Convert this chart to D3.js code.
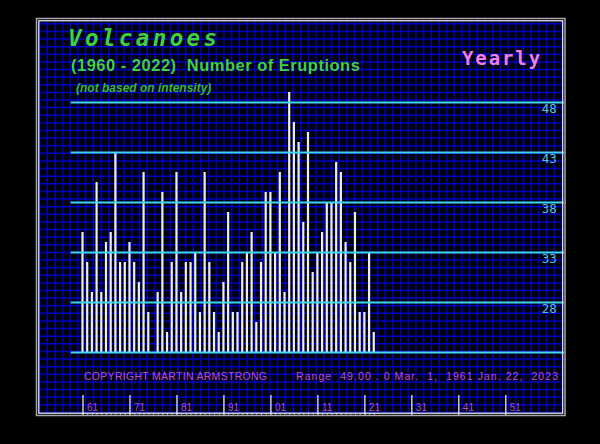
<!DOCTYPE html>
<html>
<head>
<meta charset="utf-8">
<script src="https://cdn.jsdelivr.net/npm/d3@7"></script>
<style>
  body { margin: 0; background: #000; }
  svg { display: block; }
</style>
</head>
<body>
<div id="chart"></div>
<script>
// yearly number of volcanic eruptions
var years = d3.range(1961, 2024);
var eruptions = [35,32,29,40,29,34,35,43,32,32,
                 34,32,30,41,27,23,29,39,25,32,
                 41,29,32,32,33,27,41,32,27,25,
                 30,37,27,27,32,33,35,26,32,39,
                 39,33,41,29,49,46,44,36,45,31,
                 33,35,38,38,42,41,34,32,37,27,
                 27,33,25];
var levelTicks = [23, 28, 33, 38, 43, 48];
var yearTicks = [1961, 1971, 1981, 1991, 2001, 2011, 2021, 2031, 2041, 2051];

var width = 600, height = 444;

var svg = d3.select("#chart")
    .append("svg")
    .attr("width", width)
    .attr("height", height);

svg.append("rect")
    .attr("width", width)
    .attr("height", height)
    .attr("fill", "#000");

// blue grid paper inside the frame
var grid = svg.append("g").attr("stroke", "#0000c4").attr("stroke-width", 1.5);
grid.selectAll("line.v")
    .data(d3.range(39.7, 565, 7.68))
    .enter().append("line")
    .attr("x1", function(d) { return d; })
    .attr("x2", function(d) { return d; })
    .attr("y1", 20)
    .attr("y2", 414);
grid.selectAll("line.h")
    .data(d3.range(23.8, 414, 7.62))
    .enter().append("line")
    .attr("x1", 38)
    .attr("x2", 564)
    .attr("y1", function(d) { return d; })
    .attr("y2", function(d) { return d; });

var x = d3.scaleLinear().domain([1961, 2051]).range([82.5, 505.3]);
var y = d3.scaleLinear().domain([23, 48]).range([352, 102]);

// bars
svg.selectAll("rect.bar")
    .data(eruptions)
    .enter()
    .append("rect")
    .attr("class", "bar")
    .attr("x", function(d, i) { return x(years[i]) - 1.1; })
    .attr("y", function(d) { return y(d); })
    .attr("width", 2.2)
    .attr("height", function(d) { return y(23) - y(d); })
    .attr("fill", "#eeeeee");

// cyan level lines with labels on the right
var yAxis = svg.append("g")
    .attr("transform", "translate(70.7,0)")
    .call(d3.axisRight(y)
        .tickValues(levelTicks)
        .tickSize(493)
        .tickFormat(function(d) { return d === 23 ? "" : d; }));
yAxis.select(".domain").remove();
yAxis.selectAll(".tick line")
    .attr("stroke", "#3fd6ee")
    .attr("stroke-width", 2);
yAxis.selectAll(".tick text")
    .attr("x", 471)
    .attr("y", 10.5)
    .attr("dy", 0)
    .attr("text-anchor", "start")
    .attr("fill", "#4cc6dc")
    .attr("font-family", "DejaVu Sans Mono")
    .attr("font-size", "12.5px");

// titles
svg.append("text")
    .attr("x", 68)
    .attr("y", 45.5)
    .attr("fill", "#3ed23e")
    .attr("font-family", "DejaVu Sans Mono")
    .attr("font-weight", "bold")
    .attr("font-style", "oblique")
    .attr("font-size", "22.5px")
    .attr("letter-spacing", "3.4px")
    .text("Volcanoes");

svg.append("text")
    .attr("x", 71)
    .attr("y", 71)
    .attr("fill", "#3ed23e")
    .attr("font-family", "Liberation Sans")
    .attr("font-weight", "bold")
    .attr("font-size", "16.5px")
    .attr("letter-spacing", "0.5px")
    .style("white-space", "pre")
    .text("(1960 - 2022)  Number of Eruptions");

svg.append("text")
    .attr("x", 76)
    .attr("y", 92)
    .attr("fill", "#34bb34")
    .attr("font-family", "Liberation Sans")
    .attr("font-weight", "bold")
    .attr("font-style", "italic")
    .attr("font-size", "12px")
    .text("(not based on intensity)");

svg.append("text")
    .attr("x", 462)
    .attr("y", 65)
    .attr("fill", "#f07ef0")
    .attr("font-family", "DejaVu Sans Mono")
    .attr("font-weight", "bold")
    .attr("font-size", "19px")
    .attr("letter-spacing", "1.9px")
    .text("Yearly");

// footer
svg.append("text")
    .attr("x", 84)
    .attr("y", 379.5)
    .attr("fill", "#c24ccc")
    .attr("font-family", "Liberation Sans")
    .attr("font-size", "10.5px")
    .attr("textLength", 183)
    .attr("lengthAdjust", "spacing")
    .text("COPYRIGHT MARTIN ARMSTRONG");

svg.append("text")
    .attr("x", 296)
    .attr("y", 379.5)
    .attr("fill", "#c24ccc")
    .attr("font-family", "Liberation Sans")
    .attr("font-size", "10.5px")
    .attr("textLength", 262)
    .attr("lengthAdjust", "spacing")
    .style("white-space", "pre")
    .text("Range  49.00 . 0 Mar.  1,  1961 Jan. 22,  2023");

// bottom year axis
var xAxis = svg.append("g")
    .attr("transform", "translate(0,415)")
    .call(d3.axisTop(x)
        .tickValues(yearTicks)
        .tickSize(20)
        .tickFormat(function(d) { return String(d).slice(2); }));
xAxis.select(".domain").remove();
xAxis.selectAll(".tick line")
    .attr("stroke", "#e8e8e8")
    .attr("stroke-width", 1.3);
xAxis.selectAll(".tick text")
    .attr("x", 4)
    .attr("y", -4.5)
    .attr("dy", 0)
    .attr("text-anchor", "start")
    .attr("fill", "#b450c4")
    .attr("font-family", "Liberation Sans")
    .attr("font-size", "10px");

var minor = svg.append("g")
    .attr("transform", "translate(0,416)")
    .call(d3.axisTop(x).tickValues(years).tickSize(3).tickFormat(""));
minor.select(".domain").remove();
minor.selectAll(".tick line").attr("stroke", "#9a9a9a").attr("stroke-width", 1);

// frame
svg.append("rect")
    .attr("x", 36.5)
    .attr("y", 18.5)
    .attr("width", 528.5)
    .attr("height", 397)
    .attr("fill", "none")
    .attr("stroke", "#a8a8a8")
    .attr("stroke-width", 1.5);
svg.append("rect")
    .attr("x", 38.8)
    .attr("y", 20.8)
    .attr("width", 523.9)
    .attr("height", 392.4)
    .attr("fill", "none")
    .attr("stroke", "#f2f2f2")
    .attr("stroke-width", 1.2);
</script>
</body>
</html>
